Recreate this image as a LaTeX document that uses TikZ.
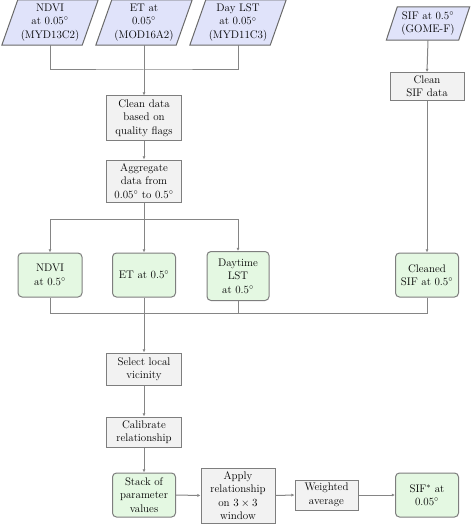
\documentclass[tikz,border=0pt]{standalone}
\usetikzlibrary{arrows.meta,backgrounds,calc}
\definecolor{lav}{HTML}{E0E3FA}
\definecolor{boxgray}{HTML}{F2F2F2}
\definecolor{greenfill}{HTML}{E4F8E2}
\definecolor{bordergray}{HTML}{7E7E7E}
\definecolor{paraborder}{HTML}{6A6A6A}
\definecolor{linegray}{HTML}{858585}
\begin{document}
\begin{tikzpicture}[x=1pt,y=1pt,
  font=\fontsize{11}{13.4}\selectfont,
  ptext/.style={rectangle, inner sep=0pt, align=center},
  para/.style={draw=paraborder, fill=lav, line width=1pt, line join=miter},
  gbox/.style={rectangle, draw=bordergray, fill=boxgray, line width=1pt, inner sep=0pt, align=center},
  grbox/.style={rectangle, draw=bordergray, fill=greenfill, line width=1pt, rounded corners=4pt, inner sep=0pt, align=center},
  conn/.style={draw=linegray, line width=1pt},
  arr/.style={conn, -{Latex[length=3.2pt,width=3.2pt]}}
]
\useasboundingbox (0,0) rectangle (474,-524);

% input parallelograms (text holders)
\node[ptext, minimum width=80pt, minimum height=45pt] (ndvi) at (50,-22.5) {NDVI\\at 0.05$^\circ$\\(MYD13C2)};
\node[ptext, minimum width=80pt, minimum height=45pt] (et) at (144,-22.5) {ET at\\0.05$^\circ$\\(MOD16A2)};
\node[ptext, minimum width=80pt, minimum height=45pt] (lst) at (238,-22.5) {Day LST\\at 0.05$^\circ$\\(MYD11C3)};
\node[ptext, minimum width=72pt, minimum height=33pt] (sif) at (428,-23.5) {SIF at 0.5$^\circ$\\(GOME-F)};

\begin{scope}[on background layer]
  \foreach \n/\s in {ndvi/8, et/8, lst/8, sif/5.5}
    \draw[para] ([xshift=-\s pt]\n.south west) -- ([xshift=-\s pt]\n.south east)
      -- ([xshift=\s pt]\n.north east) -- ([xshift=\s pt]\n.north west) -- cycle;
\end{scope}

% processing boxes
\node[gbox, minimum width=75pt, minimum height=44pt] (clean) at (144,-118) {Clean data\\based on\\quality flags};
\node[gbox, minimum width=75pt, minimum height=42pt] (agg) at (144,-181) {Aggregate\\data from\\0.05$^\circ$ to 0.5$^\circ$};
\node[gbox, minimum width=74pt, minimum height=28pt] (cleansif) at (427,-86.5) {Clean\\SIF data};

% 0.5 degree products
\node[grbox, minimum width=64pt, minimum height=44pt] (ndvi5) at (50,-275) {NDVI\\at 0.5$^\circ$};
\node[grbox, minimum width=63pt, minimum height=44pt] (et5) at (144,-275) {ET at 0.5$^\circ$};
\node[grbox, minimum width=62pt, minimum height=49pt] (lst5) at (238,-276) {Daytime\\LST\\at 0.5$^\circ$};
\node[grbox, minimum width=63pt, minimum height=44pt] (csif) at (427,-275) {Cleaned\\SIF at 0.5$^\circ$};

% calibration
\node[gbox, minimum width=75pt, minimum height=32pt] (select) at (144,-369) {Select local\\vicinity};
\node[gbox, minimum width=75pt, minimum height=30pt] (calib) at (144,-432) {Calibrate\\relationship};

% bottom row
\node[grbox, minimum width=63pt, minimum height=44pt] (stack) at (144,-495) {Stack of\\parameter\\values};
\node[gbox, minimum width=74pt, minimum height=55pt] (apply) at (238,-495.5) {Apply\\relationship\\on $3\times3$\\window};
\node[gbox, minimum width=63pt, minimum height=30pt] (wavg) at (326.5,-495) {Weighted\\average};
\node[grbox, minimum width=63pt, minimum height=44pt] (sifstar) at (427,-495) {SIF$^*$ at\\0.05$^\circ$};

% junction points
\coordinate (m1) at (144,-70);
\coordinate (s1) at (144,-219);
\coordinate (m2) at (144,-313);

% connectors
\draw[conn] (ndvi.south) |- (m1) -| (lst.south);
\draw[arr] (et.south) -- (clean.north);
\draw[arr] (clean.south) -- (agg.north);
\draw[conn] (agg.south) -- (s1);
\draw[arr] (s1) -| (ndvi5.north);
\draw[arr] (s1) -| (lst5.north);
\draw[arr] (s1) -- (et5.north);

\draw[arr] (sif.south) -- (cleansif.north);
\draw[arr] (cleansif.south) -- (csif.north);

\draw[conn] (ndvi5.south) |- (m2);
\draw[conn] (csif.south) |- (m2);
\draw[conn] (lst5.south) -- (lst5.south |- m2);
\draw[arr] (et5.south) -- (select.north);
\draw[arr] (select.south) -- (calib.north);
\draw[arr] (calib.south) -- (stack.north);

\draw[arr] (stack.east) -- (apply.west);
\draw[arr] (apply.east) -- (wavg.west);
\draw[arr] (wavg.east) -- (sifstar.west);
\end{tikzpicture}
\end{document}
